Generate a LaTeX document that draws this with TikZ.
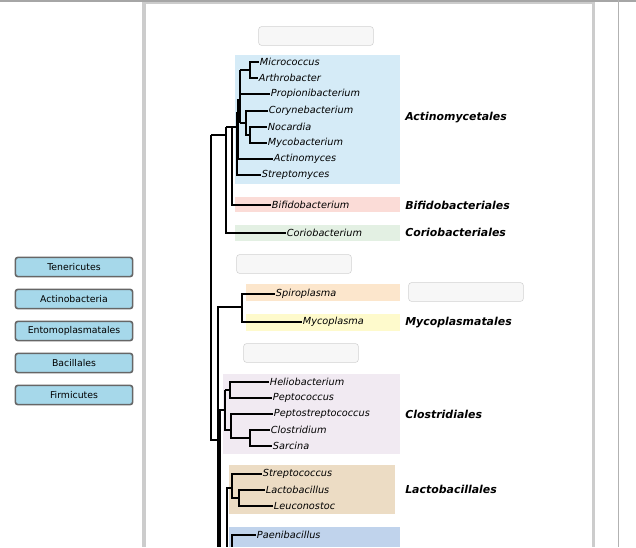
\documentclass[tikz,border=0pt]{standalone}
\usepackage{fontspec}
\setmainfont{DejaVu Sans}
\definecolor{btnc}{HTML}{A6D8EA}
\definecolor{cA}{HTML}{D5EBF7}
\definecolor{cB}{HTML}{FBDCD7}
\definecolor{cC}{HTML}{E3F0E3}
\definecolor{cD}{HTML}{FCE6CC}
\definecolor{cE}{HTML}{FEFACC}
\definecolor{cF}{HTML}{F1EAF2}
\definecolor{cG}{HTML}{ECDCC4}
\definecolor{cH}{HTML}{C0D3EC}
\begin{document}
\begin{tikzpicture}[x=0.75pt,y=-0.75pt,
  tx/.style={anchor=west,inner sep=0.5pt,font=\fontsize{7.3}{8}\selectfont\itshape},
  ord/.style={anchor=west,inner sep=0pt,font=\fontsize{8.2}{9}\selectfont\bfseries\itshape},
  btn/.style={draw=gray!80!black,line width=1.2pt,fill=btnc,rounded corners=2pt,minimum width=88pt,minimum height=14.5pt,inner sep=0pt,font=\fontsize{7}{8}\selectfont},
  ebox/.style={draw=gray!35,fill=gray!6,rounded corners=2pt,minimum width=86pt,minimum height=14pt,inner sep=0pt},
  br/.style={line width=0.8pt,black}]
\useasboundingbox (0,0) rectangle (636,547);
% frame
\draw[gray!70,line width=1.2pt] (0,1) -- (636,1);
\draw[gray!60] (618,0) -- (618,547);
\fill[gray!40] (142,2) rectangle (595,547);
\fill[white] (146,4) rectangle (592,547);
% left buttons
\node[btn] (b1) at (74,267) {Tenericutes};
\node[btn] (b2) at (74,299) {Actinobacteria};
\node[btn] (b3) at (74,331) {Entomoplasmatales};
\node[btn] (b4) at (74,363) {Bacillales};
\node[btn] (b5) at (74,395) {Firmicutes};
% empty boxes
\node[ebox] (e1) at (316,36) {};
\node[ebox] (e2) at (294,264) {};
\node[ebox] (e3) at (466,292) {};
\node[ebox] (e4) at (301,353) {};
% bands
\fill[cA] (235,55) rectangle (400,184);
\fill[cB] (235,197) rectangle (400,212);
\fill[cC] (235,225) rectangle (400,241);
\fill[cD] (246,284) rectangle (400,301);
\fill[cE] (246,314) rectangle (400,331);
\fill[cF] (223,374) rectangle (400,454);
\fill[cG] (229,465) rectangle (395,514);
\fill[cH] (229,527) rectangle (400,547);
% taxa
\node[tx] (t1) at (259,62) {Micrococcus};
\node[tx] (t2) at (258,78) {Arthrobacter};
\node[tx] (t3) at (270,94) {Propionibacterium};
\node[tx] (t4) at (268,111) {Corynebacterium};
\node[tx] (t5) at (267,127) {Nocardia};
\node[tx] (t6) at (267,143) {Mycobacterium};
\node[tx] (t7) at (273,159) {Actinomyces};
\node[tx] (t8) at (261,175) {Streptomyces};
\node[tx] (t9) at (271,205) {Bifidobacterium};
\node[tx] (t10) at (286,233) {Coriobacterium};
\node[tx] (t11) at (275,294) {Spiroplasma};
\node[tx] (t12) at (302,322) {Mycoplasma};
\node[tx] (t13) at (269,382) {Heliobacterium};
\node[tx] (t14) at (272,398) {Peptococcus};
\node[tx] (t15) at (273,414) {Peptostreptococcus};
\node[tx] (t16) at (270,430) {Clostridium};
\node[tx] (t17) at (272,446) {Sarcina};
\node[tx] (t18) at (262,474) {Streptococcus};
\node[tx] (t19) at (265,490) {Lactobacillus};
\node[tx] (t20) at (273,506) {Leuconostoc};
\node[tx] (t21) at (256,535) {Paenibacillus};
% orders
\node[ord] (o1) at (405,118) {Actinomycetales};
\node[ord] (o2) at (405,205) {Bifidobacteriales};
\node[ord] (o3) at (405,232) {Coriobacteriales};
\node[ord] (o4) at (405,323) {Mycoplasmatales};
\node[ord] (o5) at (405,414) {Clostridiales};
\node[ord] (o6) at (405,489) {Lactobacillales};
% tree
\draw[br] (t1.west) -| (250,78) -- (t2.west);
\draw[br] (250,70) -- (240,70);
\draw[br] (t5.west) -| (250,143) -- (t6.west);
\draw[br] (t4.west) -| (246,135) -- (250,135);
\draw[br] (246,123) -- (240,123);
\draw[br] (240,70) -- (240,123);
\draw[br] (t3.west) -| (240,94);
\draw[br] (240,100) -- (238,100) -- (238,159) -- (t7.west);
\draw[br] (238,113) -- (237,113) -- (237,175) -- (t8.west);
\draw[br] (226,127) -- (237,127);
\draw[br] (232,127) |- (t9.west);
\draw[br] (226,127) |- (t10.west);
\draw[br] (211,135) -- (226,135);
\draw[br] (211,135) -- (211,440) -- (218,440);
\draw[br] (t11.west) -| (242,322) -- (t12.west);
\draw[br] (242,307) -- (218,307) -- (218,547);
\draw[br] (t13.west) -| (230,398) -- (t14.west);
\draw[br] (230,390) -- (225,390);
\draw[br] (t16.west) -| (250,446) -- (t17.west);
\draw[br] (250,438) -- (231,438) -- (231,414) -- (t15.west);
\draw[br] (231,430) -- (225,430) -- (225,390);
\draw[br] (225,410) -- (220,410) -- (220,547);
\draw[br] (t19.west) -| (239,506) -- (t20.west);
\draw[br] (239,498) -- (232,498) -- (232,474) -- (t18.west);
\draw[br] (232,488) -- (227,488) -- (227,547);
\draw[br] (t21.west) -- (232,535) -- (232,547);
\end{tikzpicture}
\end{document}
